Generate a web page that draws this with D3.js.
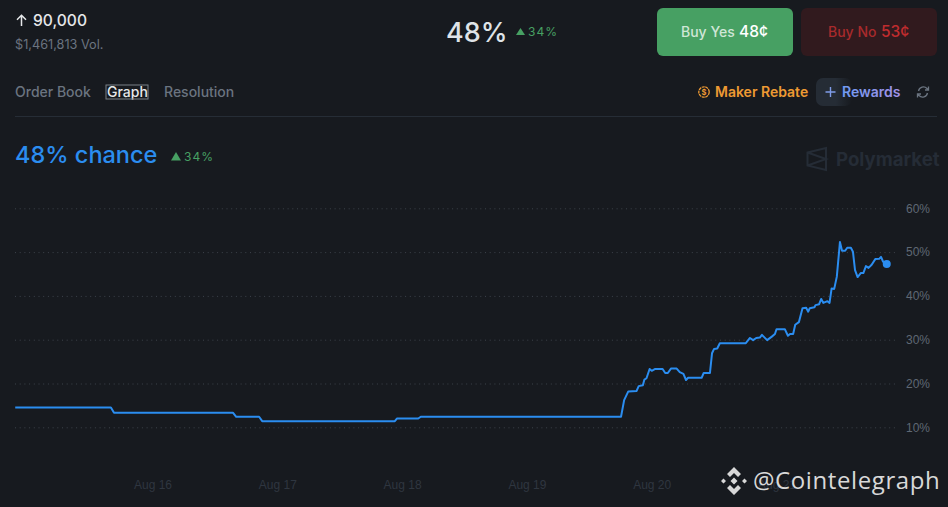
<!DOCTYPE html>
<html>
<head>
<meta charset="utf-8">
<script src="https://cdn.jsdelivr.net/npm/d3@7"></script>
<style>
  html, body { margin: 0; padding: 0; background: #171a1f; overflow: hidden; }
  text { font-family: Inter, "Noto Sans", sans-serif; }
  .tick text { font-family: "Liberation Sans", Arial, sans-serif; }
</style>
</head>
<body>
<div id="chart"></div>
<script>
// hours counted from Aug 16 00:00
var hours = [-26.4, -8.0, -7.4, 15.5, 16.1, 20.5, 21.1, 46.6, 47.0, 51.1, 51.6, 90.1, 90.7, 91.5, 93.1, 93.5, 94.3, 94.6, 95.0, 95.6, 96.0, 96.6, 98.1, 98.6, 99.1, 99.7, 100.8, 101.4, 102.1, 102.6, 103.0, 105.6, 106.0, 107.2, 107.6, 108.0, 108.6, 109.1, 114.1, 114.9, 115.5, 116.1, 116.8, 117.2, 118.2, 119.1, 119.7, 120.0, 121.6, 122.2, 122.6, 123.2, 123.6, 124.3, 125.0, 125.7, 126.1, 126.4, 127.3, 127.5, 128.2, 128.6, 129.0, 129.8, 130.2, 130.6, 131.1, 131.6, 132.2, 132.6, 133.2, 133.6, 134.3, 134.7, 135.1, 135.6, 136.2, 136.7, 137.2, 137.7, 138.3, 139.0, 139.8, 140.1, 140.5, 141.2];
var chance = [14.5, 14.5, 13.3, 13.3, 12.4, 12.4, 11.4, 11.4, 12.0, 12.0, 12.4, 12.4, 16.2, 18.2, 18.3, 19.4, 19.6, 20.9, 21.2, 23.3, 22.9, 23.3, 23.3, 22.4, 22.4, 23.4, 23.4, 22.6, 22.2, 20.8, 21.3, 21.3, 22.4, 22.4, 26.9, 27.9, 28.0, 29.2, 29.2, 30.4, 29.9, 30.4, 30.5, 31.1, 29.9, 30.7, 31.3, 32.4, 32.4, 30.9, 31.3, 31.3, 33.4, 34.0, 37.2, 37.3, 36.4, 37.2, 37.4, 37.9, 38.1, 39.3, 38.4, 38.8, 38.4, 41.7, 41.6, 44.4, 52.3, 50.3, 50.3, 51.0, 51.0, 50.1, 45.9, 44.3, 45.2, 45.2, 46.8, 46.4, 47.1, 48.4, 48.5, 48.9, 47.8, 47.3];
var yTicks = [10, 20, 30, 40, 50, 60];
var tabs = ["Order Book", "Graph", "Resolution"];

var svgWidth = 948;
var svgHeight = 507;

var svg = d3.select("#chart").append("svg")
  .attr("width", svgWidth)
  .attr("height", svgHeight)
  .style("display", "block");

var defs = svg.append("defs");
var pill = defs.append("linearGradient").attr("id", "pillFade");
pill.append("stop").attr("offset", "0%").attr("stop-color", "#252c35");
pill.append("stop").attr("offset", "55%").attr("stop-color", "#252c35");
pill.append("stop").attr("offset", "100%").attr("stop-color", "#171a1f");
var rewards = defs.append("linearGradient").attr("id", "rewardsText");
rewards.append("stop").attr("offset", "0%").attr("stop-color", "#6f9bf2");
rewards.append("stop").attr("offset", "100%").attr("stop-color", "#a592e6");

function label(x, y, str, size, color, weight) {
  return svg.append("text")
    .attr("x", x)
    .attr("y", y)
    .attr("font-size", size)
    .attr("font-weight", weight || 400)
    .attr("fill", color)
    .text(str);
}

//======Header======//
svg.append("path")
  .attr("d", "M21.5 26V15.5M17 19.8L21.5 15.3L26 19.8")
  .attr("fill", "none")
  .attr("stroke", "#e6e8ea")
  .attr("stroke-width", 1.5);
label(33, 26, "90,000", 15.6, "#e6e8ea", 500);
label(15, 49, "$1,461,813 Vol.", 12.7, "#6b7480");

label(446, 42, "48%", 27, "#dfe3e7", 500);
svg.append("path").attr("d", "M520.5 28L525 35H516Z").attr("fill", "#47a063");
label(528, 36, "34%", 12, "#47a063").attr("letter-spacing", 1);

svg.append("rect")
  .attr("x", 657).attr("y", 8)
  .attr("width", 136).attr("height", 48)
  .attr("rx", 6)
  .attr("fill", "#47a063");
label(681, 37, "Buy Yes", 14, "#cfe6d6", 500);
label(739, 37, "48¢", 15.5, "#ffffff", 500);

svg.append("rect")
  .attr("x", 801).attr("y", 8)
  .attr("width", 136).attr("height", 48)
  .attr("rx", 6)
  .attr("fill", "#311a1e");
label(828, 37, "Buy No", 14, "#a82a2c", 500);
label(881, 37, "53¢", 15.5, "#c02c2e", 500);

//======Tabs======//
var tabX = [15, 107, 164];
tabs.forEach(function (t, i) {
  label(tabX[i], 97, t, 14, t === "Graph" ? "#e6e8ea" : "#6b7480", 500);
});
svg.append("rect")
  .attr("x", 106).attr("y", 85)
  .attr("width", 42).attr("height", 14)
  .attr("fill", "none")
  .attr("stroke", "#7a8087")
  .attr("stroke-width", 1);

svg.append("circle")
  .attr("cx", 704).attr("cy", 92).attr("r", 5.2)
  .attr("fill", "none")
  .attr("stroke", "#ee9a33")
  .attr("stroke-width", 1.3)
  .attr("stroke-dasharray", "3 0.6");
label(701.6, 95, "$", 7.5, "#ee9a33", 700);
label(715, 97, "Maker Rebate", 14, "#ee9a33", 600);

svg.append("rect")
  .attr("x", 816).attr("y", 78)
  .attr("width", 36).attr("height", 28)
  .attr("rx", 7)
  .attr("fill", "url(#pillFade)");
svg.append("path")
  .attr("d", "M830.5 87V97M825.5 92H835.5")
  .attr("stroke", "#7f9ce8")
  .attr("stroke-width", 1.4);
label(842, 97, "Rewards", 14, "url(#rewardsText)", 600);

svg.append("path")
  .attr("d", "M918.5 91A5 5 0 0 1 927 88.5L928.5 90M928.5 86.5V90H925M927.5 93A5 5 0 0 1 919 95.5L917.5 94M917.5 97.5V94H921")
  .attr("fill", "none")
  .attr("stroke", "#6b7480")
  .attr("stroke-width", 1.3);

svg.append("line")
  .attr("x1", 15).attr("x2", 937)
  .attr("y1", 116.5).attr("y2", 116.5)
  .attr("stroke", "#262d36");

//======Title and watermark======//
label(15, 163, "48% chance", 23.5, "#2b8df0", 500);
svg.append("path").attr("d", "M176 152L181 160.5H171Z").attr("fill", "#47a063");
label(184, 161, "34%", 12, "#47a063").attr("letter-spacing", 1);

svg.append("path")
  .attr("d", "M807.5 152.5L826 148V170L807.5 165.5ZM807.5 152.5L826 159L807.5 165.5")
  .attr("fill", "none")
  .attr("stroke", "#252c36")
  .attr("stroke-width", 2);
label(836, 166, "Polymarket", 18.6, "#252c36", 700);

//======Chart======//
var dates = hours.map(function (h) {
  return new Date(2024, 7, 16, 0, Math.round(h * 60));
});

var xScale = d3.scaleTime()
  .domain([new Date(2024, 7, 16), new Date(2024, 7, 21)])
  .range([152.5, 776.5]);

var yScale = d3.scaleLinear()
  .domain([10, 60])
  .range([427.3, 208.3]);

// grid lines and labels on the right
var yAxis = d3.axisRight(yScale)
  .tickValues(yTicks)
  .tickSize(882)
  .tickPadding(9)
  .tickFormat(function (d) { return d + "%"; });

var yGroup = svg.append("g")
  .attr("transform", "translate(15, 0)")
  .call(yAxis);
yGroup.select(".domain").remove();
yGroup.selectAll(".tick line")
  .attr("stroke", "#3d434b")
  .attr("stroke-dasharray", "1 3.7");
yGroup.selectAll(".tick text")
  .attr("font-size", 12)
  .attr("fill", "#5f6874");

var xAxis = d3.axisBottom(xScale)
  .ticks(d3.timeDay.every(1))
  .tickSize(0)
  .tickFormat(d3.timeFormat("%b %d"));

var xGroup = svg.append("g")
  .attr("transform", "translate(0, 477)")
  .call(xAxis);
xGroup.select(".domain").remove();
xGroup.selectAll(".tick text")
  .attr("font-size", 12)
  .attr("fill", "#2f3640");

var line = d3.line()
  .x(function (d) { return xScale(d); })
  .y(function (d, i) { return yScale(chance[i]); });

svg.append("path")
  .attr("d", line(dates))
  .attr("fill", "none")
  .attr("stroke", "#2b8df0")
  .attr("stroke-width", 2)
  .attr("stroke-linejoin", "round");

svg.append("circle")
  .attr("cx", xScale(dates[dates.length - 1]))
  .attr("cy", yScale(chance[chance.length - 1]))
  .attr("r", 4)
  .attr("fill", "#2b8df0");

//======Cointelegraph stamp======//
svg.append("path")
  .attr("d", "M734 467L741 474L738 477L734 473L730 477L727 474Z"
    + "M734 495L741 488L738 485L734 489L730 485L727 488Z"
    + "M734 477.5L737.5 481L734 484.5L730.5 481Z"
    + "M723.5 478.5L726 481L723.5 483.5L721 481Z"
    + "M744.5 478.5L747 481L744.5 483.5L742 481Z")
  .attr("fill", "#d8d8d8");
label(753, 489, "@Cointelegraph", 24, "#d8d8d8")
  .attr("letter-spacing", 0.6)
  .style("font-family", "'Open Sans', 'Noto Sans', sans-serif");
</script>
</body>
</html>
